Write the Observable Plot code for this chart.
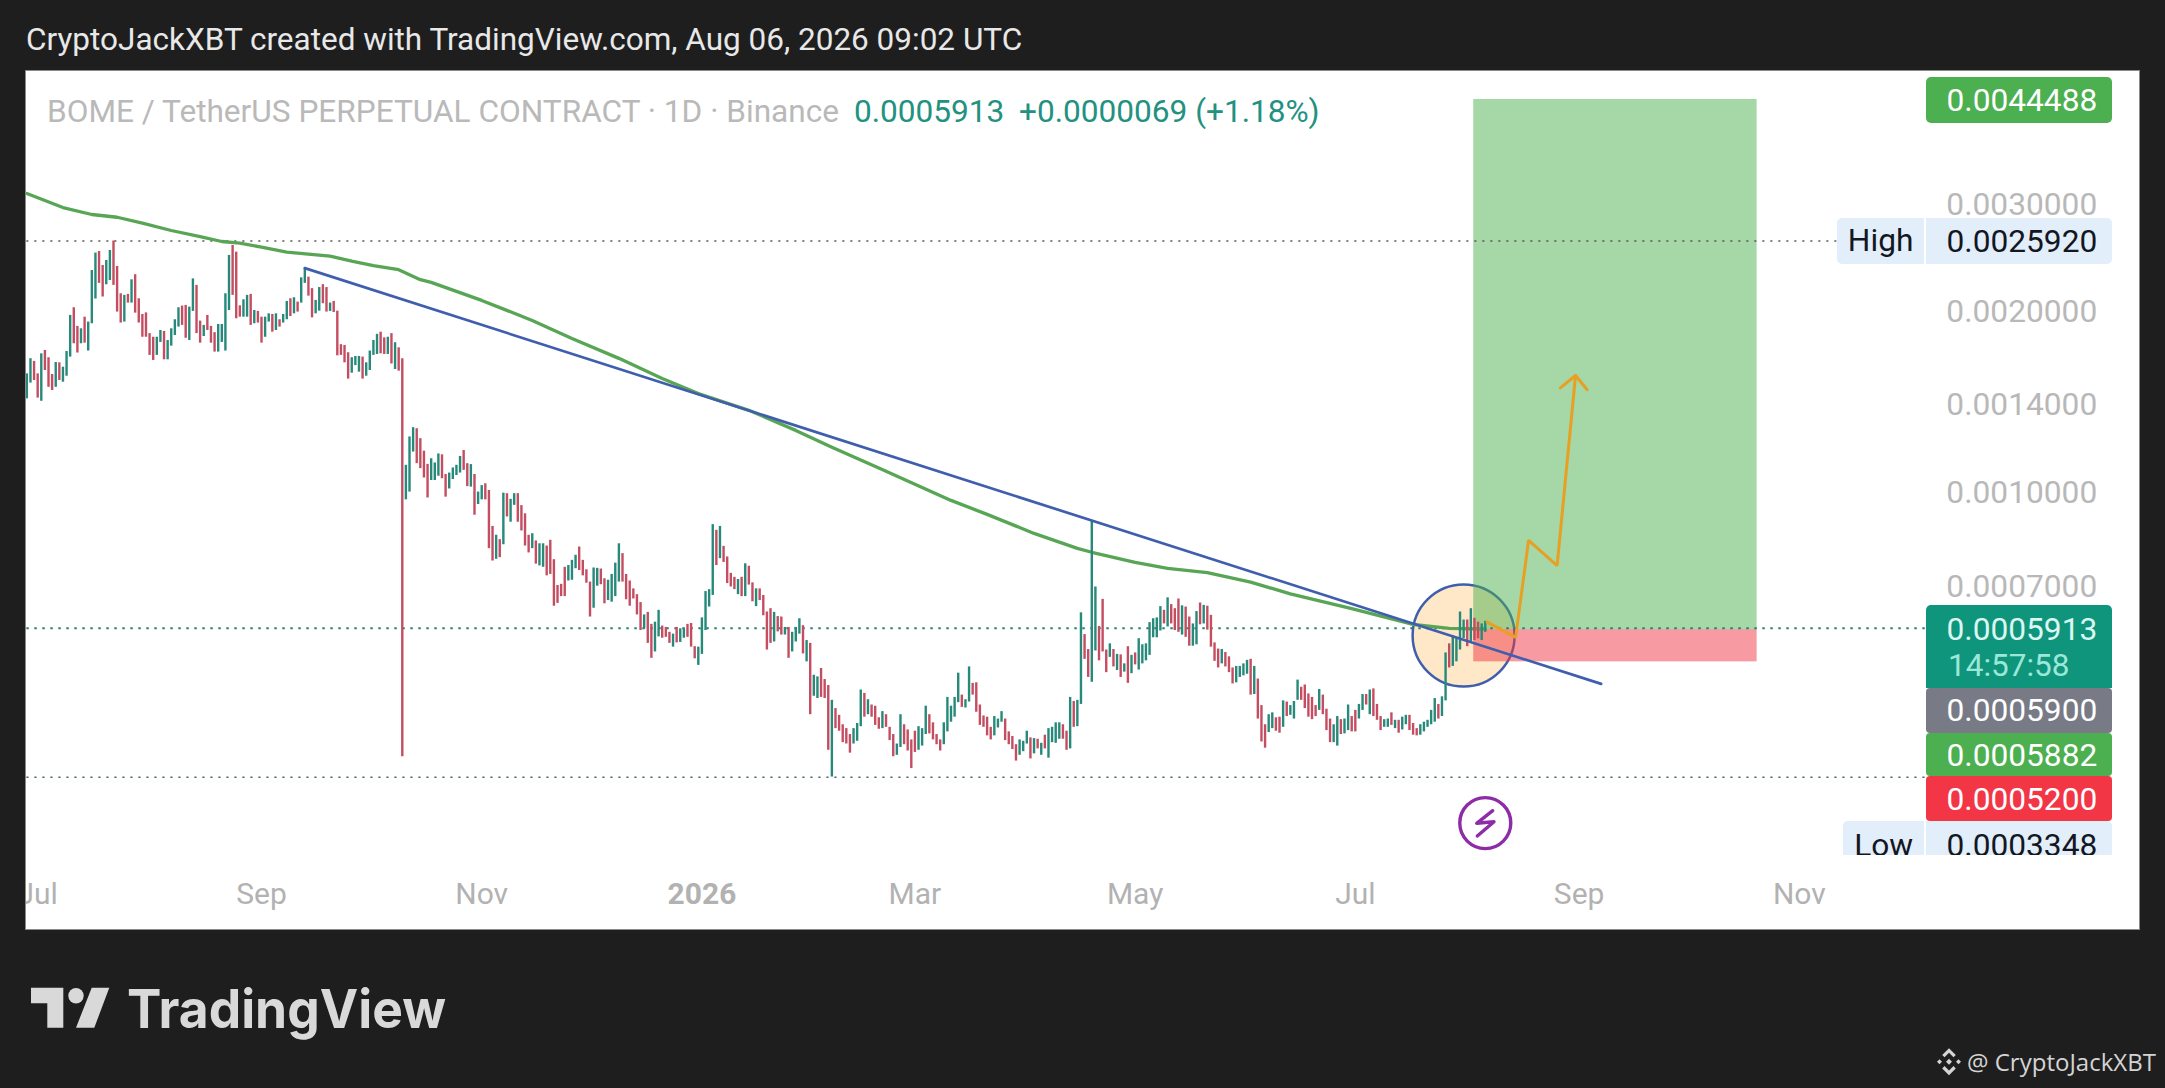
<!DOCTYPE html>
<html>
<head>
<meta charset="utf-8">
<script src="https://cdn.jsdelivr.net/npm/d3@7"></script>
<script src="https://cdn.jsdelivr.net/npm/@observablehq/plot@0.6"></script>
<style>
html,body{margin:0;padding:0;background:#1e1e1e;width:2165px;height:1088px;overflow:hidden;font-family:Roboto,sans-serif}
#title{position:absolute;left:26px;top:21px;font-size:31.5px;line-height:38px;color:#e8e8e8;white-space:nowrap}
#chart{position:absolute;left:26px;top:71px;width:2113px;height:858px;background:#fff;outline:1px solid #8a8a8a}
#chart svg{display:block;max-width:none}
.leg{position:absolute;top:93px;font-size:31.6px;line-height:38px;white-space:nowrap}
.tag{position:absolute;box-sizing:border-box;color:#fff;font-size:31.7px;text-align:right;padding-right:15px;white-space:nowrap;overflow:hidden}
.val{left:1926px;width:186.3px}
.name{text-align:center;padding:0;color:#131722;background:#e3eefb}
.pale{background:#e3eefb;color:#131722}
#footer-mark{position:absolute;left:0;top:0;pointer-events:none}
#credit{position:absolute;left:1967px;top:1046px;font-family:"Open Sans",sans-serif;font-size:24px;line-height:32px;color:#d4d4d4;white-space:nowrap}
</style>
</head>
<body>
<div id="title">CryptoJackXBT created with TradingView.com, Aug 06, 2026 09:02 UTC</div>
<div id="chart"></div>
<div class="leg" style="left:47px;color:#b9b9b9">BOME / TetherUS PERPETUAL CONTRACT · 1D · Binance</div>
<div class="leg" style="left:854px;color:#22917f">0.0005913</div>
<div class="leg" style="left:1019px;color:#22917f">+0.0000069 (+1.18%)</div>

<div class="tag val" style="top:77.3px;height:45.4px;line-height:47.4px;background:#4caf50;border-radius:5px">0.0044488</div>
<div class="tag name" style="left:1837.3px;width:86.7px;top:218.3px;height:45.7px;line-height:45.7px;border-radius:5px 0 0 5px">High</div>
<div class="tag val pale" style="top:218.3px;height:45.7px;line-height:47px;border-radius:0 5px 5px 0">0.0025920</div>
<div class="tag val" style="top:605px;height:83.3px;background:#0f957c;border-radius:5px 5px 0 0;line-height:49px;color:#dcf7f1">0.0005913<div style="text-align:left;padding-left:22px;margin-top:-7px;line-height:38px;font-size:31.5px;color:#9ce8d8">14:57:58</div></div>
<div class="tag val" style="top:688.3px;height:44.4px;line-height:46.4px;background:#787b86;border-radius:4px">0.0005900</div>
<div class="tag val" style="top:732.7px;height:43.3px;line-height:45.3px;background:#4caf50;border-radius:4px">0.0005882</div>
<div class="tag val" style="top:776px;height:44.7px;line-height:47.7px;background:#f23645;border-radius:4px">0.0005200</div>
<div class="tag name" style="left:1843.3px;width:80.7px;top:820.7px;height:34.3px;line-height:49px;border-radius:5px 0 0 0">Low</div>
<div class="tag val pale" style="top:820.7px;height:34.3px;line-height:49px;border-radius:0 5px 0 0">0.0003348</div>

<svg id="footer-mark" width="2165" height="1088" viewBox="0 0 2165 1088">
  <g fill="#d9d9d9">
    <polygon points="31,987.7 63.3,987.7 63.3,1027.7 47.3,1027.7 47.3,1003.3 31,1003.3"/>
    <circle cx="76" cy="995.7" r="7.7"/>
    <polygon points="91.7,987.7 109.3,987.7 94.3,1027.7 76,1027.7"/>
    <text x="127" y="1027.7" font-family="Inter,Lato,sans-serif" font-weight="700" font-size="54" textLength="319" lengthAdjust="spacingAndGlyphs">TradingView</text>
  </g>
  <g transform="translate(1949 1061.7)" fill="#d4d4d4">
    <polygon points="0,-3 3,0 0,3 -3,0"/>
    <polygon points="-9.5,-2.5 -7,0 -9.5,2.5 -12,0"/>
    <polygon points="9.5,-2.5 12,0 9.5,2.5 7,0"/>
    <polygon points="0,-13.5 6.8,-6.7 4.5,-4.4 0,-8.9 -4.5,-4.4 -6.8,-6.7"/>
    <polygon points="0,13.5 6.8,6.7 4.5,4.4 0,8.9 -4.5,4.4 -6.8,6.7"/>
  </g>
  <polyline points="1492.7,810.7 1476.7,823.3 1494,821.7 1477.3,836" fill="none" stroke="#8e2ca8" stroke-width="3.4" stroke-linejoin="round" stroke-linecap="round"/>
</svg>
<div id="credit">@ CryptoJackXBT</div>

<script>
// Prices are in millionths of a USDT; one value per daily candle from 2025-06-28.
const candleHighs = [
1561,1654,1637,1561,1685,1707,1660,1557,1630,1628,
1601,1700,1951,2009,1871,1854,1938,1902,2316,2475,
2490,2361,2406,2500,2592,2352,2119,2106,2114,2235,
2279,2079,1958,1970,1820,1795,1795,1842,1835,1773,
1854,1919,2009,2022,2027,2014,2243,2188,1909,1878,
1951,1871,1827,1885,1885,2119,2453,2548,2484,2024,
2071,2106,2114,1988,1981,1938,1938,1963,1958,1963,
1919,1958,2058,2079,2087,2053,2252,2337,2258,2161,
2066,2170,2194,2170,2045,2058,1983,1745,1740,1692,
1660,1668,1668,1664,1628,1703,1773,1815,1830,1791,
1795,1820,1758,1724,1654,1101,1227,1271,1266,1219,
1162,1105,1129,1111,1150,1146,1063,1069,1090,1101,
1139,1165,1108,1104,1063,994,1019,1026,1000,872,
843,829,990,988,967,988,988,944,915,843,
848,825,816,816,809,827,768,696,699,746,
751,766,781,806,766,739,705,744,743,741,
714,710,726,758,816,786,726,708,687,672,
652,622,628,600,605,633,596,593,582,578,
593,590,591,600,602,551,550,615,680,685,
878,859,872,808,776,729,718,712,718,756,
749,703,687,687,670,629,637,628,618,617,
593,593,582,593,613,597,564,558,494,491,
507,486,475,449,435,424,409,403,394,403,
411,467,461,450,441,439,420,430,425,405,
394,380,425,409,401,386,399,406,403,439,
425,412,394,386,412,454,439,454,498,458,
450,510,479,480,441,423,421,405,422,418,
430,418,398,391,379,386,384,399,389,388,
387,381,393,403,405,412,412,409,399,454,
447,449,627,577,545,890,692,595,660,544,
557,545,535,534,516,551,533,538,568,555,
557,604,613,615,642,633,664,647,637,661,
644,641,617,601,630,651,645,643,621,559,
546,545,539,530,508,511,511,516,523,525,
511,487,440,409,425,428,420,421,448,446,
440,447,485,472,476,460,454,440,468,458,
434,418,409,422,417,418,441,422,432,442,
459,459,467,469,442,422,417,418,428,416,
416,421,424,424,411,403,409,413,416,432,
452,442,455,538,557,574,570,629,610,610,
637,614,605,601,607];
const candleLows = [
1419,1507,1522,1423,1406,1581,1483,1465,1483,1522,
1512,1547,1664,1751,1690,1751,1755,1703,1890,2077,
2205,2093,2193,2229,2188,1976,1895,1902,2045,2045,
1968,1895,1795,1795,1675,1643,1675,1760,1647,1647,
1735,1807,1866,1878,1788,1773,1981,1820,1755,1800,
1842,1755,1696,1696,1760,1703,1988,2106,1926,1938,
1938,1938,1878,1890,1895,1755,1795,1902,1830,1842,
1866,1895,1919,1943,1963,1976,2045,2205,2100,1933,
1963,1983,2040,1976,1981,1973,1672,1675,1628,1530,
1565,1611,1571,1530,1547,1581,1675,1681,1685,1681,
1681,1621,1587,1577,362,965,994,1158,1108,1087,
1049,972,1039,1039,1056,1046,975,1006,1043,1059,
1069,1080,1015,1013,910,948,965,965,801,764,
769,774,813,904,886,945,886,857,809,788,
801,755,750,746,722,726,643,650,667,667,
708,710,742,737,722,702,617,638,694,698,
649,657,653,667,705,705,659,643,661,622,
586,590,558,527,540,572,569,571,558,550,
559,560,569,571,550,526,513,535,586,641,
670,751,771,760,701,692,685,672,667,667,
697,654,642,657,620,544,558,561,583,576,
576,527,540,561,578,536,520,425,456,452,
454,452,371,335,403,399,382,380,367,380,
384,406,421,425,421,408,402,403,405,385,
362,364,375,379,370,346,368,371,377,394,
395,386,379,370,379,398,413,421,445,437,
436,446,458,429,408,405,392,386,392,404,
413,385,379,372,356,364,369,380,359,366,
373,364,373,360,382,381,387,387,371,373,
405,406,442,525,490,481,542,522,540,499,
529,510,503,490,500,479,497,514,504,516,
522,533,570,570,585,601,594,601,586,582,
576,571,552,552,555,599,601,587,550,521,
508,516,510,499,478,480,490,493,496,458,
459,418,383,374,397,403,399,396,405,422,
424,418,449,449,435,421,417,422,432,425,
400,382,382,377,394,395,400,398,398,418,
432,441,425,422,416,400,405,405,408,403,
396,401,409,400,393,392,393,398,405,409,
413,418,422,448,508,511,520,544,568,551,
558,564,568,564,582];
const candleSides = ("ggrrgrrrgr"+"gggrrgrggg"+"rrggrrrgrg"+"rrrrrrggrg"+"gggrrggrrg"+
"rrrggggrrr"+"ggrgrrggrg"+"rggrgrggrr"+"ggrrgrrrrr"+"gggrggggrr"+
"grgrrgggrr"+"rrgggrrggg"+"grrgrggrrr"+"grgrggrrrr"+"grggrrrrrr"+
"gggrrrrggr"+"rggggrrrrr"+"rgrrggrrrg"+"rggrrrgggg"+"grgrrrrgrg"+
"rrgrrrrgrr"+"grgggrgrgg"+"rrrgrrrrrg"+"ggrgrrrgrr"+"rggrrrrggg"+
"rrrrgggggr"+"ggrrrrrrgg"+"grrrrgggrg"+"rgrggggrrg"+"rggrrggrrr"+
"grgrgrgrgg"+"gggggrgrrr"+"grrggrgrrr"+"rgrrrggggr"+"grrrggrrgr"+
"gggrrrrrgr"+"rrggrggrrg"+"grgrrrggrg"+"rggrrrgggg"+"grggrggggr"+"grrgg").split("");

const maDays   = [0,10,18,25,32,40,48,54,59,65,72,84,90,96,103,109,112,126,140,151,164,176,186,200,213,223,236,256,266,279,291,295,307,316,327,339,350,367,384,394,404];
const maPrices = [3107,2945,2868,2838,2774,2698,2635,2587,2570,2532,2484,2447,2400,2360,2323,2236,2213,2066,1914,1787,1656,1534,1448,1358,1258,1180,1090,963,913,849,802,790,760,743,731,705,674,637,600,591,589];

const trendDays   = [77,436.1];
const trendPrices = [2337,478];

const arrowDays   = [404.5,412.4,416,423.9,429];
const arrowPrices = [605,571,827,751,1551];
const headDays    = [424.8,429,432.2];
const headPrices  = [1480,1551,1469];

const axisTicks  = [0.0007,0.001,0.0014,0.002,0.003];
const monthTicks = ["2025-07-01","2025-09-01","2025-11-01","2026-03-01","2026-05-01","2026-07-01","2026-09-01","2026-11-01"];
const yearTicks  = ["2026-01-01"];
const monthNames = {"07":"Jul","09":"Sep","11":"Nov","03":"Mar","05":"May"};

const firstDay = Date.UTC(2025,5,28);
const dayAt = i => new Date(firstDay + i*864e5);
const px = v => v/1e6;
const targetPrice=0.0044488, entryPrice=0.0005882, stopPrice=0.00052;
const lastPrice=0.0005913, highPrice=0.002592, lowPrice=0.0003348;

const candles = candleHighs.map((h,i)=>({date:dayAt(i),high:px(h),low:px(candleLows[i]),side:candleSides[i]}));
const maLine = maDays.map((d,i)=>({date:dayAt(d),price:px(maPrices[i])}));
const trend = trendDays.map((d,i)=>({date:dayAt(d),price:px(trendPrices[i])}));
const arrow = arrowDays.map((d,i)=>({date:dayAt(d),price:px(arrowPrices[i])}));
const head = headDays.map((d,i)=>({date:dayAt(d),price:px(headPrices[i])}));
const tradeStart=dayAt(400.8), tradeEnd=dayAt(479.3);

const plot = Plot.plot({
  width:2113, height:858, margin:0,
  style:{fontFamily:"Roboto, sans-serif",background:"#fff",overflow:"hidden"},
  x:{type:"utc",domain:[dayAt(0),dayAt(526)],range:[0.35,1899.2]},
  y:{type:"log",domain:[0.00495,0.0002483],range:[0,784]},
  marks:[
    Plot.dot([{date:dayAt(398),price:px(575)}],{x:"date",y:"price",r:51,fill:"#ff9800",fillOpacity:0.22,stroke:"#3f5fae",strokeWidth:2.5}),
    Plot.rect([{x1:tradeStart,x2:tradeEnd,y1:entryPrice,y2:targetPrice}],{x1:"x1",x2:"x2",y1:"y1",y2:"y2",fill:"#4caf50",fillOpacity:0.5}),
    Plot.rect([{x1:tradeStart,x2:tradeEnd,y1:stopPrice,y2:entryPrice}],{x1:"x1",x2:"x2",y1:"y1",y2:"y2",fill:"#f23645",fillOpacity:0.5}),
    Plot.ruleY([{p:highPrice,to:dayAt(501.6)}],{y:"p",x1:()=>dayAt(0),x2:"to",stroke:"#555",strokeWidth:1.4,strokeDasharray:"2 6"}),
    Plot.ruleY([{p:lastPrice,to:dayAt(526)}],{y:"p",x1:()=>dayAt(0),x2:"to",stroke:"#1f7f70",strokeWidth:2,strokeDasharray:"2.4 5.6"}),
    Plot.ruleY([{p:lowPrice,to:dayAt(526)}],{y:"p",x1:()=>dayAt(0),x2:"to",stroke:"#4f6b68",strokeWidth:1.6,strokeDasharray:"2.2 5.8"}),
    Plot.line(maLine,{x:"date",y:"price",stroke:"#58a655",strokeWidth:3.3}),
    Plot.ruleX(candles,{x:"date",y1:"low",y2:"high",stroke:d=>d.side==="g"?"#26897a":"#c44d61",strokeWidth:2.4}),
    Plot.line(trend,{x:"date",y:"price",stroke:"#3f5fae",strokeWidth:2.7}),
    Plot.line(arrow,{x:"date",y:"price",stroke:"#e8a023",strokeWidth:3,strokeLinejoin:"miter"}),
    Plot.line(head,{x:"date",y:"price",stroke:"#e8a023",strokeWidth:3,strokeLinejoin:"miter"}),
    Plot.dot([{date:dayAt(404),price:px(281)}],{x:"date",y:"price",r:25.5,fill:"none",stroke:"#8e2ca8",strokeWidth:3.4}),
    Plot.axisY(axisTicks,{anchor:"right",tickSize:0,tickPadding:-42.3,textAnchor:"end",fontSize:31.7,color:"#b8b8b8",label:null,dy:2.5,tickFormat:d=>d.toFixed(7)}),
    Plot.axisX(monthTicks.map(d=>new Date(d)),{anchor:"bottom",tickSize:0,tickPadding:-35,lineAnchor:"middle",fontSize:30,color:"#b2b2b2",label:null,tickFormat:d=>monthNames[d.toISOString().slice(5,7)]}),
    Plot.axisX(yearTicks.map(d=>new Date(d)),{anchor:"bottom",tickSize:0,tickPadding:-35,lineAnchor:"middle",fontSize:30,fontWeight:700,color:"#b2b2b2",label:null,tickFormat:d=>String(d.getUTCFullYear())})
  ]
});
document.getElementById("chart").appendChild(plot);
</script>
</body>
</html>
